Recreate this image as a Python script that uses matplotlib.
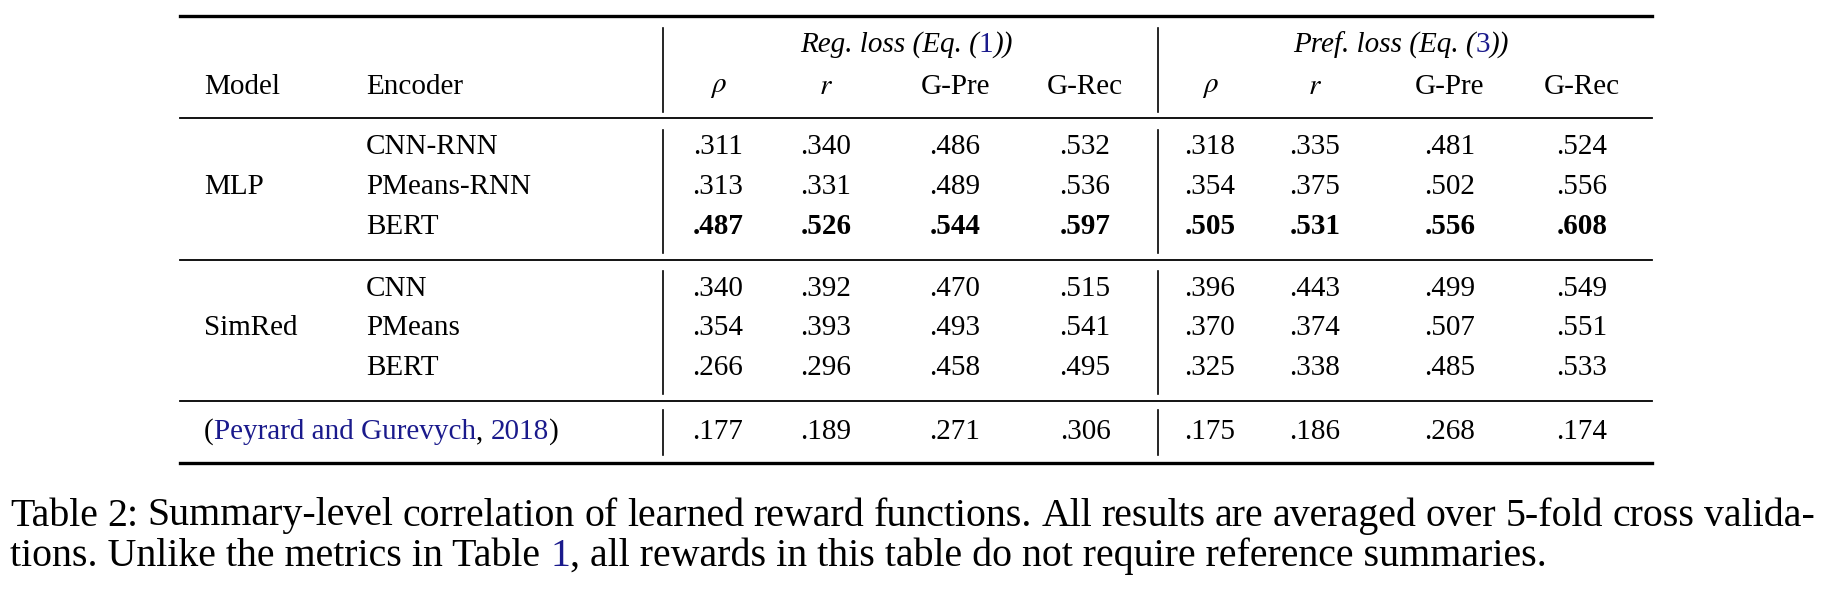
import matplotlib
matplotlib.use("Agg")
import matplotlib.pyplot as plt

plt.rcParams["font.family"] = ["Liberation Serif", "DejaVu Serif"]
plt.rcParams["mathtext.fontset"] = "stix"

METRICS = ["$\\rho$", "$r$", "G-Pre", "G-Rec"]
MODELS = ["MLP", "SimRed"]
ENCODERS = [["CNN-RNN", "PMeans-RNN", "BERT"], ["CNN", "PMeans", "BERT"]]
REG_LOSS = [
    [[".311", ".340", ".486", ".532"], [".313", ".331", ".489", ".536"], [".487", ".526", ".544", ".597"]],
    [[".340", ".392", ".470", ".515"], [".354", ".393", ".493", ".541"], [".266", ".296", ".458", ".495"]],
]
PREF_LOSS = [
    [[".318", ".335", ".481", ".524"], [".354", ".375", ".502", ".556"], [".505", ".531", ".556", ".608"]],
    [[".396", ".443", ".499", ".549"], [".370", ".374", ".507", ".551"], [".325", ".338", ".485", ".533"]],
]
BOLD_ROW = (0, 2)
BASELINE_REG = [".177", ".189", ".271", ".306"]
BASELINE_PREF = [".175", ".186", ".268", ".174"]
CAPTION_1 = "Table 2: Summary-level correlation of learned reward functions. All results are averaged over 5-fold cross valida-"
CAPTION_2 = [("tions. Unlike the metrics in Table ", "black"), ("1", "link"),
             (", all rewards in this table do not require reference summaries.", "black")]

LINK = "#1a1a8c"
FS = 21

fig = plt.figure(figsize=(18.34, 6.02), dpi=100)
ax = fig.add_axes([0, 0, 1, 1])
ax.set_xlim(0, 1834)
ax.set_ylim(602, 0)
ax.axis("off")
r = fig.canvas.get_renderer()


def width(s, **kw):
    t = ax.text(0, 0, s, **kw)
    w = t.get_window_extent(r).width
    t.remove()
    return w


def pieces(x, y, parts, **kw):
    for p, c, extra in parts:
        tt = ax.text(x, y, p, ha="left", va="center", color=c, **kw, **extra)
        x += tt.get_window_extent(r).width
    return x


x_left, x_right = 180, 1652
reg_x = [718, 826, 955, 1085]
pref_x = [1210, 1315, 1450, 1582]
vlines = [663, 1158]

# rules
for y, lw in [(16, 2.4), (118, 1.3), (260, 1.3), (401, 1.3), (463, 2.4)]:
    ax.plot([x_left, x_right], [y, y], color="black", lw=lw)
for vx in vlines:
    for y0, y1 in [(28, 112), (130, 253), (271, 394), (410, 455)]:
        ax.plot([vx, vx], [y0, y1], color="black", lw=1.2)

# header
for xs, name, num in ((reg_x, "Reg. loss", "1"), (pref_x, "Pref. loss", "3")):
    xc = (xs[0] + xs[-1]) / 2 + 5
    parts = [(name + " (Eq. (", "black", {"style": "italic"}), (num, LINK, {}), ("))", "black", {"style": "italic"})]
    w = sum(width(p, fontsize=FS, **e) for p, _, e in parts)
    pieces(xc - w / 2, 45, parts, fontsize=FS)

ax.text(204, 87, "Model", ha="left", va="center", fontsize=FS)
ax.text(366, 87, "Encoder", ha="left", va="center", fontsize=FS)
for xs in (reg_x, pref_x):
    for x, m in zip(xs, METRICS):
        ax.text(x, 87, m, ha="center", va="center", fontsize=FS)

# body
section_rows = [[147, 187, 227], [289, 328, 368]]
for mi, model in enumerate(MODELS):
    ax.text(204, section_rows[mi][1], model, ha="left", va="center", fontsize=FS)
    for ri, enc in enumerate(ENCODERS[mi]):
        y = section_rows[mi][ri]
        w = "bold" if (mi, ri) == BOLD_ROW else "normal"
        ax.text(366, y, enc, ha="left", va="center", fontsize=FS)
        for x, v in zip(reg_x, REG_LOSS[mi][ri]):
            ax.text(x, y, v, ha="center", va="center", fontsize=FS, weight=w)
        for x, v in zip(pref_x, PREF_LOSS[mi][ri]):
            ax.text(x, y, v, ha="center", va="center", fontsize=FS, weight=w)

# baseline row
pieces(204, 432, [("(", "black", {}), ("Peyrard and Gurevych", LINK, {}), (", ", "black", {}),
                  ("2018", LINK, {}), (")", "black", {})], fontsize=FS)
for xcs, vals in ((reg_x, BASELINE_REG), (pref_x, BASELINE_PREF)):
    for xc, v in zip(xcs, vals):
        ax.text(xc, 432, v, ha="center", va="center", fontsize=FS)

# caption: size so line 2 ends where it does in the reference, line 1 justified
cap_x0, cap_x1, line2_end = 10, 1815, 1542
line2_text = "".join(p for p, _ in CAPTION_2)
cfs = FS * (line2_end - cap_x0) / width(line2_text, fontsize=FS)
words = CAPTION_1.split(" ")
wsum = sum(width(wd, fontsize=cfs) for wd in words)
gap = (cap_x1 - cap_x0 - wsum) / (len(words) - 1)
x = cap_x0
for wd in words:
    tt = ax.text(x, 516, wd, ha="left", va="center", fontsize=cfs)
    x += tt.get_window_extent(r).width + gap
pieces(cap_x0, 556, [(p, LINK if c == "link" else c, {}) for p, c in CAPTION_2], fontsize=cfs)

fig.savefig("out.png", dpi=100)
